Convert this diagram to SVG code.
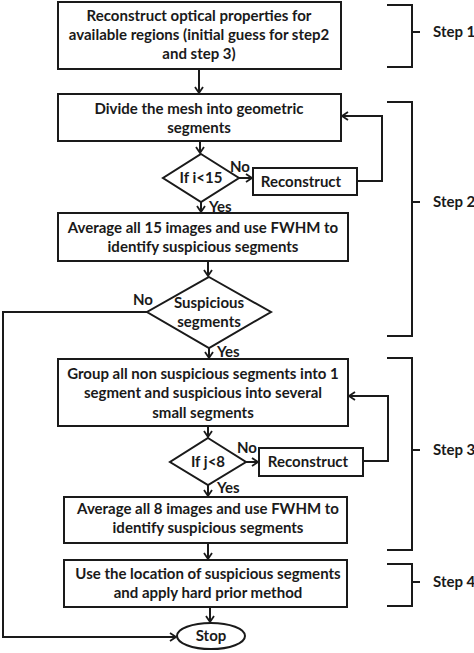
<svg xmlns="http://www.w3.org/2000/svg" width="474" height="653" viewBox="0 0 474 653">
<style>
.box{fill:#fff;stroke:#1a1a1a;stroke-width:2}
.ln{fill:none;stroke:#1a1a1a;stroke-width:2}
.br{fill:none;stroke:#1a1a1a;stroke-width:2}
text{font-family:Lato,"Open Sans","Liberation Sans",sans-serif;font-weight:bold;font-size:15px;fill:#1a1a1a}
.c{text-anchor:middle}
</style>
<defs>
<marker id="ah" markerUnits="userSpaceOnUse" markerWidth="10" markerHeight="12" refX="7" refY="5" orient="auto" viewBox="0 0 10 10">
<path d="M1,1 L7,5 L1,9" fill="none" stroke="#1a1a1a" stroke-width="1.8"/>
</marker>
</defs>
<rect width="474" height="653" fill="#fff"/>
<g id="connectors">
<path class="ln" marker-end="url(#ah)" d="M199,69 V93"/>
<path class="ln" marker-end="url(#ah)" d="M200,141 V153"/>
<path class="ln" marker-end="url(#ah)" d="M239,178 H252"/>
<path class="ln" marker-end="url(#ah)" d="M357,181 H382 V116 H342"/>
<path class="ln" marker-end="url(#ah)" d="M201,202 V212"/>
<path class="ln" marker-end="url(#ah)" d="M208,261 V276"/>
<path class="ln" marker-end="url(#ah)" d="M147,312 H3 V637 H176"/>
<path class="ln" marker-end="url(#ah)" d="M209,348 V358"/>
<path class="ln" marker-end="url(#ah)" d="M208,426 V437"/>
<path class="ln" marker-end="url(#ah)" d="M246,462 H258"/>
<path class="ln" marker-end="url(#ah)" d="M363,461 H388 V396 H349"/>
<path class="ln" marker-end="url(#ah)" d="M208,485 V496"/>
<path class="ln" marker-end="url(#ah)" d="M208,543 V559"/>
<path class="ln" marker-end="url(#ah)" d="M210,607 V622"/>
<text x="230" y="172">No</text>
<text x="209" y="212">Yes</text>
<text x="133" y="305">No</text>
<text x="217" y="357">Yes</text>
<text x="237" y="453">No</text>
<text x="217" y="493">Yes</text>
</g>
<g id="box1"><rect class="box" x="58" y="2" width="283" height="67"/>
<text class="c" x="199" y="21">Reconstruct optical properties for</text>
<text class="c" x="199" y="40">available regions (initial guess for step2</text>
<text class="c" x="199" y="59">and step 3)</text></g>
<g id="box2"><rect class="box" x="58" y="94" width="283" height="47"/>
<text class="c" x="199" y="114">Divide the mesh into geometric</text>
<text class="c" x="199" y="133">segments</text></g>
<g id="dec1"><polygon class="box" points="201,154 239,178 201,202 163,178"/>
<text class="c" x="201" y="183">If i&lt;15</text></g>
<g id="rec1"><rect class="box" x="253" y="168" width="104" height="27"/>
<text class="c" x="301" y="187">Reconstruct</text></g>
<g id="box3"><rect class="box" x="58" y="213" width="290" height="48"/>
<text class="c" x="203" y="233">Average all 15 images and use FWHM to</text>
<text class="c" x="203" y="252">identify suspicious segments</text></g>
<g id="dec2"><polygon class="box" points="209,277 271,312 209,348 147,312"/>
<text class="c" x="209" y="308">Suspicious</text>
<text class="c" x="209" y="327">segments</text></g>
<g id="box4"><rect class="box" x="58" y="359" width="290" height="67"/>
<text class="c" x="203" y="379">Group all non suspicious segments into 1</text>
<text class="c" x="203" y="398">segment and suspicious into several</text>
<text class="c" x="203" y="418">small segments</text></g>
<g id="dec3"><polygon class="box" points="208,438 246,462 208,485 170,462"/>
<text class="c" x="208" y="467">If j&lt;8</text></g>
<g id="rec2"><rect class="box" x="259" y="448" width="104" height="28"/>
<text class="c" x="308" y="467">Reconstruct</text></g>
<g id="box5"><rect class="box" x="64" y="497" width="283" height="46"/>
<text class="c" x="208" y="514">Average all 8 images and use FWHM to</text>
<text class="c" x="208" y="533">identify suspicious segments</text></g>
<g id="box6"><rect class="box" x="64" y="560" width="283" height="47"/>
<text class="c" x="208" y="579">Use the location of suspicious segments</text>
<text class="c" x="208" y="598">and apply hard prior method</text></g>
<g id="stop"><ellipse class="box" cx="211" cy="636" rx="34" ry="13"/>
<text class="c" x="211" y="641">Stop</text></g>
<g id="step1"><path class="br" d="M387,5 H412 V67 H387 M412,32 H420"/><text x="433" y="37">Step 1</text></g>
<g id="step2"><path class="br" d="M387,102 H412 V336 H387 M412,202 H420"/><text x="433" y="207">Step 2</text></g>
<g id="step3"><path class="br" d="M387,358 H412 V550 H387 M412,450 H420"/><text x="433" y="455">Step 3</text></g>
<g id="step4"><path class="br" d="M387,564 H412 V606 H387 M412,582 H420"/><text x="433" y="587">Step 4</text></g>
</svg>
